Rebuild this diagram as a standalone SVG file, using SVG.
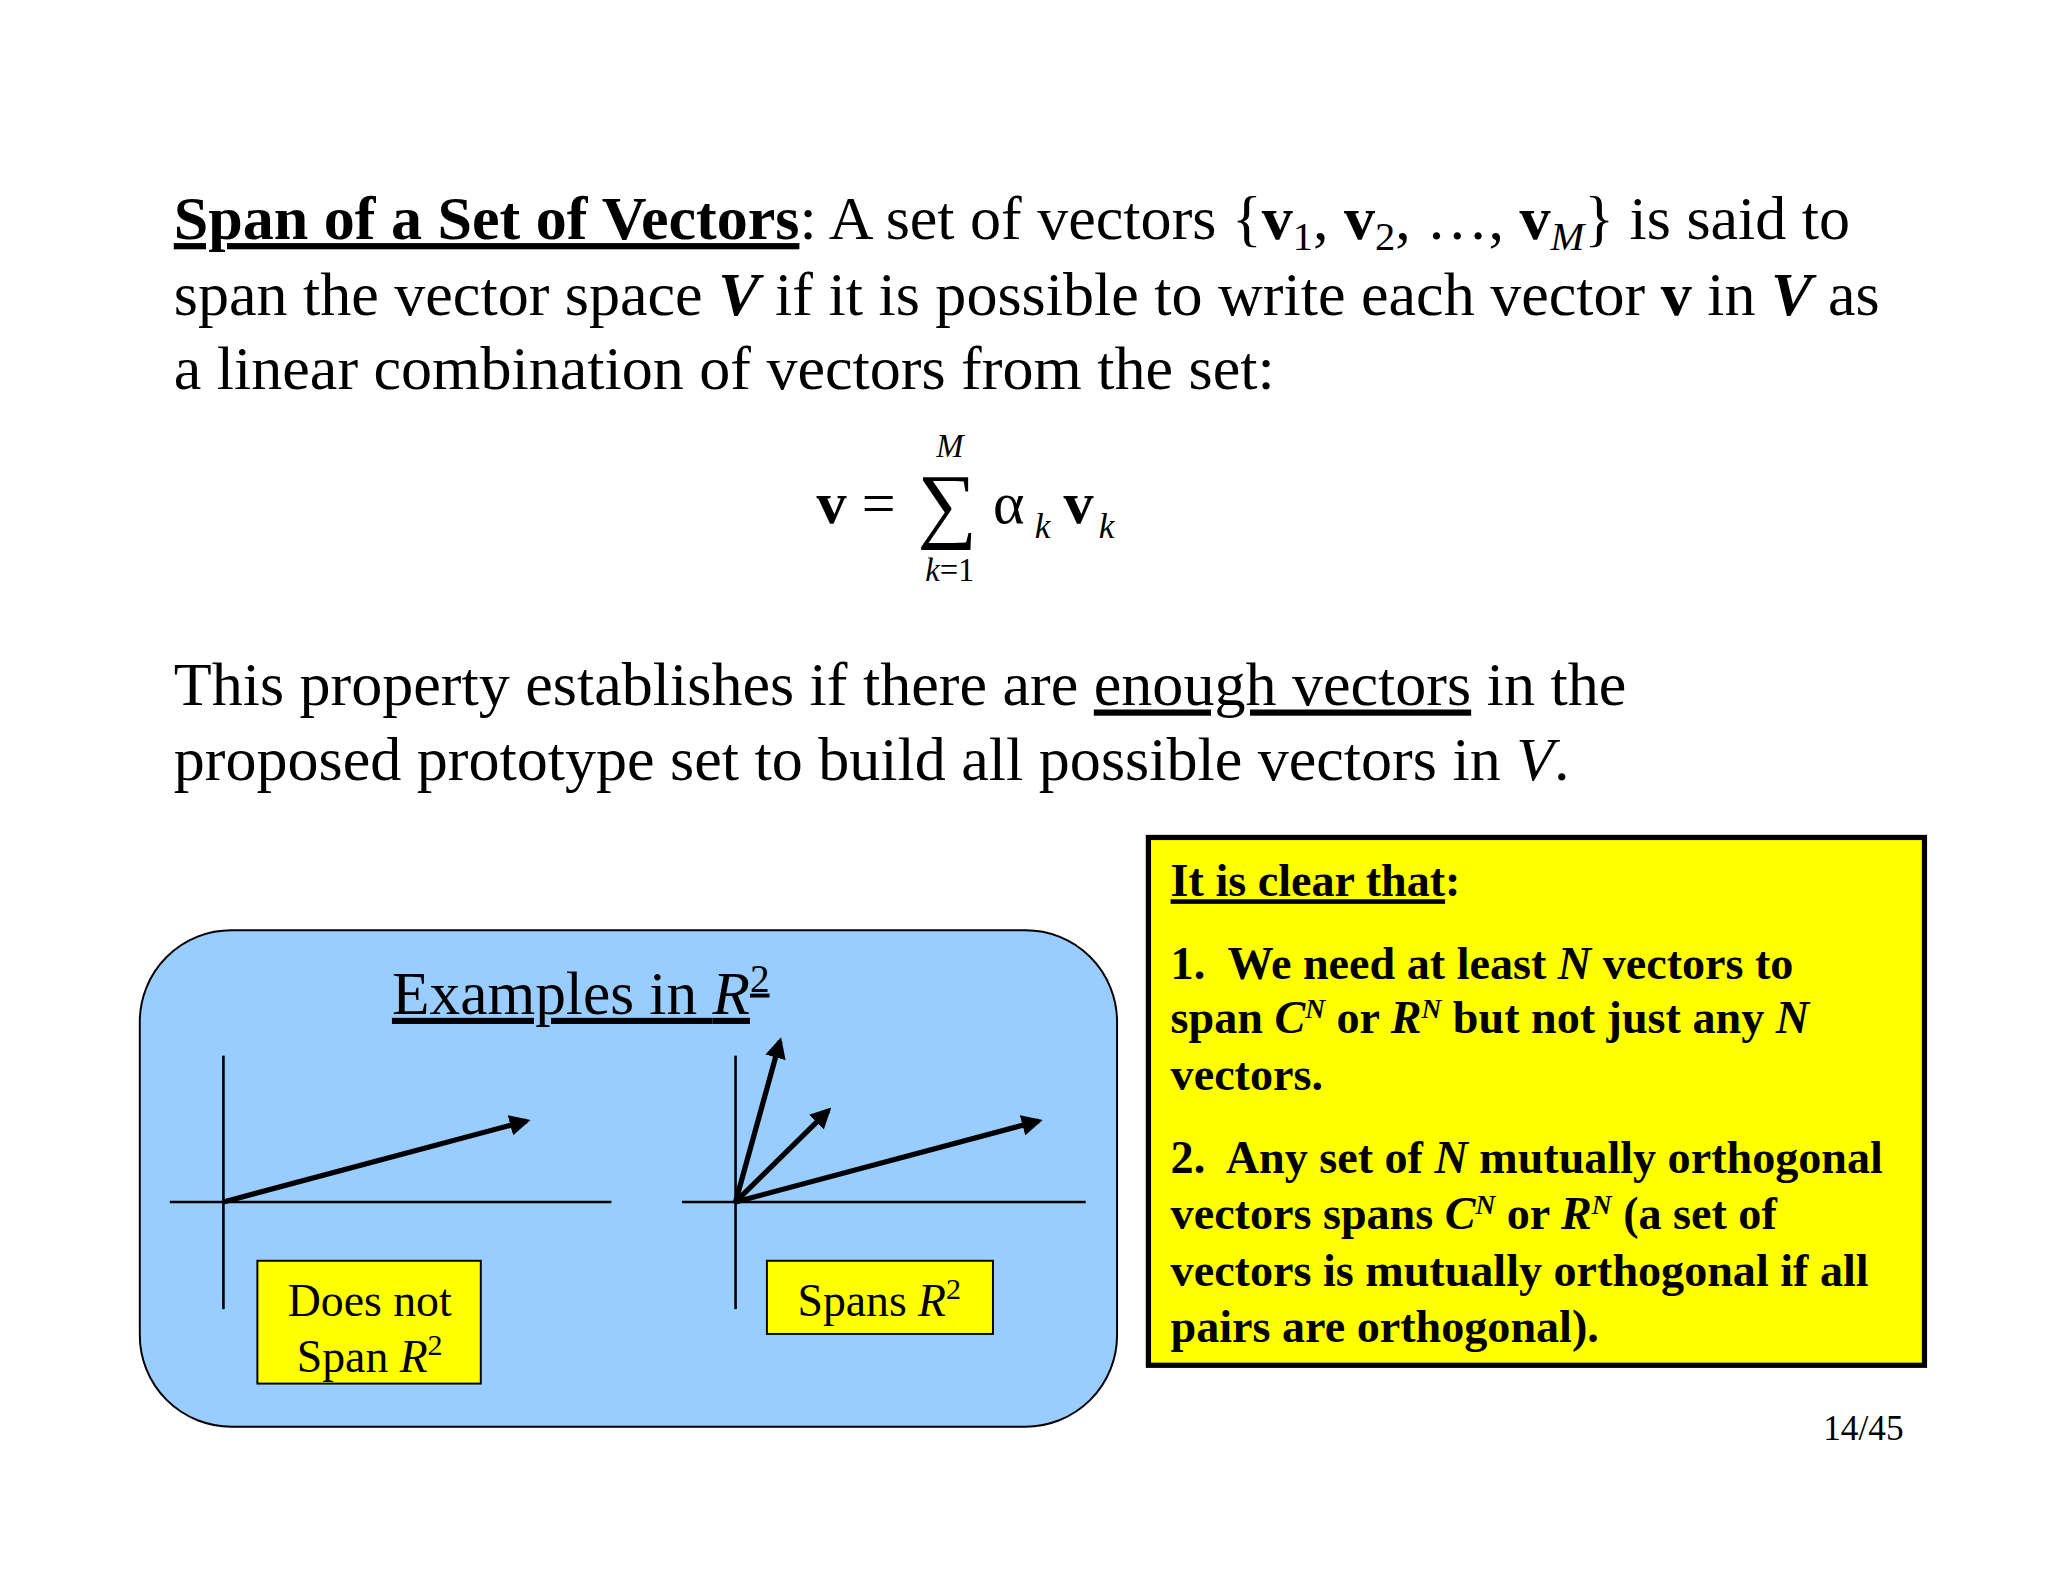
<svg xmlns="http://www.w3.org/2000/svg" width="2048" height="1582" viewBox="0 0 2048 1582">
<defs>
<style>
text{font-family:"Liberation Serif","Times New Roman",serif;fill:#000}
.m{font-size:47.5px}
.y{font-size:35.3px;font-weight:bold}
.ax{stroke:#000;stroke-width:2}
.ar{stroke:#000;stroke-width:4;marker-end:url(#ah)}
</style>
<marker id="ah" viewBox="0 0 10 10" refX="8" refY="5" markerWidth="4" markerHeight="4" orient="auto"><path d="M0,0L10,5L0,10z" fill="#000"/></marker>
</defs>
<rect width="2048" height="1582" fill="#fff"/>
<g transform="scale(1.3065)">
<g id="title">
<text class="m" x="133" y="183"><tspan font-weight="bold" text-decoration="underline">Span of a Set of Vectors</tspan>: A set of vectors {<tspan font-weight="bold">v</tspan><tspan font-size="31" dy="8">1</tspan><tspan dy="-8">, </tspan><tspan font-weight="bold">v</tspan><tspan font-size="31" dy="8">2</tspan><tspan dy="-8">, …, </tspan><tspan font-weight="bold">v</tspan><tspan font-size="31" dy="8" font-style="italic">M</tspan><tspan dy="-8">} is said to</tspan></text>
<text class="m" x="133" y="241">span the vector space <tspan font-weight="bold" font-style="italic">V</tspan> if it is possible to write each vector <tspan font-weight="bold">v</tspan> in <tspan font-weight="bold" font-style="italic">V</tspan> as</text>
<text class="m" x="133" y="298">a linear combination of vectors from the set:</text>
</g>
<g id="equation">
<text x="625" y="400" font-size="46"><tspan font-weight="bold">v</tspan> =</text>
<text x="702" y="407" font-size="64">∑</text>
<text x="727" y="350" font-size="25" font-style="italic" text-anchor="middle">M</text>
<text x="727" y="445" font-size="25" text-anchor="middle"><tspan font-style="italic">k</tspan>=1</text>
<text x="760" y="400" font-size="46">α</text>
<text x="792" y="412" font-size="27" font-style="italic">k</text>
<text x="814" y="400" font-size="46" font-weight="bold">v</text>
<text x="841" y="412" font-size="27" font-style="italic">k</text>
</g>
<g id="para">
<text class="m" x="133" y="540">This property establishes if there are <tspan text-decoration="underline">enough vectors</tspan> in the</text>
<text class="m" x="133" y="597">proposed prototype set to build all possible vectors in <tspan font-style="italic">V</tspan>.</text>
</g>
<g id="examples">
<rect x="107" y="712" width="748" height="380" rx="70" fill="#99CCFF" stroke="#000" stroke-width="1.5"/>
<text x="300" y="776" font-size="47" text-decoration="underline">Examples in <tspan font-style="italic">R</tspan><tspan font-size="30" dy="-17">2</tspan></text>
</g>
<g id="connectors">
<line class="ax" x1="171" y1="808" x2="171" y2="1002"/>
<line class="ax" x1="130" y1="920" x2="468" y2="920"/>
<line class="ar" x1="171" y1="920" x2="403" y2="858"/>
<line class="ax" x1="563" y1="808" x2="563" y2="1002"/>
<line class="ax" x1="522" y1="920" x2="831" y2="920"/>
<line class="ar" x1="563" y1="920" x2="597" y2="797"/>
<line class="ar" x1="563" y1="920" x2="634" y2="850"/>
<line class="ar" x1="563" y1="920" x2="795" y2="858"/>
</g>
<g id="doesnot">
<rect x="197" y="965" width="171" height="94" fill="#FFFF00" stroke="#000" stroke-width="1.5"/>
<text x="283" y="1007" font-size="35" text-anchor="middle">Does not</text>
<text x="283" y="1050" font-size="35" text-anchor="middle">Span <tspan font-style="italic">R</tspan><tspan font-size="23" dy="-13">2</tspan></text>
</g>
<g id="spans">
<rect x="587" y="965" width="173" height="56" fill="#FFFF00" stroke="#000" stroke-width="1.5"/>
<text x="673" y="1007" font-size="35" text-anchor="middle">Spans <tspan font-style="italic">R</tspan><tspan font-size="23" dy="-13">2</tspan></text>
</g>
<g id="clear">
<rect x="879" y="641" width="594" height="404" fill="#FFFF00" stroke="#000" stroke-width="4"/>
<text class="y" x="896" y="686"><tspan text-decoration="underline">It is clear that</tspan>:</text>
<text class="y" x="896" y="749" xml:space="preserve">1.  We need at least <tspan font-style="italic">N</tspan> vectors to</text>
<text class="y" x="896" y="791">span <tspan font-style="italic">C</tspan><tspan font-size="21" font-style="italic" dy="-12">N</tspan><tspan dy="12"> or </tspan><tspan font-style="italic">R</tspan><tspan font-size="21" font-style="italic" dy="-12">N</tspan><tspan dy="12"> but not just any </tspan><tspan font-style="italic">N</tspan></text>
<text class="y" x="896" y="834">vectors.</text>
<text class="y" x="896" y="898" xml:space="preserve">2.  Any set of <tspan font-style="italic">N</tspan> mutually orthogonal</text>
<text class="y" x="896" y="941">vectors spans <tspan font-style="italic">C</tspan><tspan font-size="21" font-style="italic" dy="-12">N</tspan><tspan dy="12"> or </tspan><tspan font-style="italic">R</tspan><tspan font-size="21" font-style="italic" dy="-12">N</tspan><tspan dy="12"> (a set of</tspan></text>
<text class="y" x="896" y="984">vectors is mutually orthogonal if all</text>
<text class="y" x="896" y="1027">pairs are orthogonal).</text>
</g>
<text x="1457" y="1102" font-size="27" text-anchor="end">14/45</text>
</g>
</svg>
